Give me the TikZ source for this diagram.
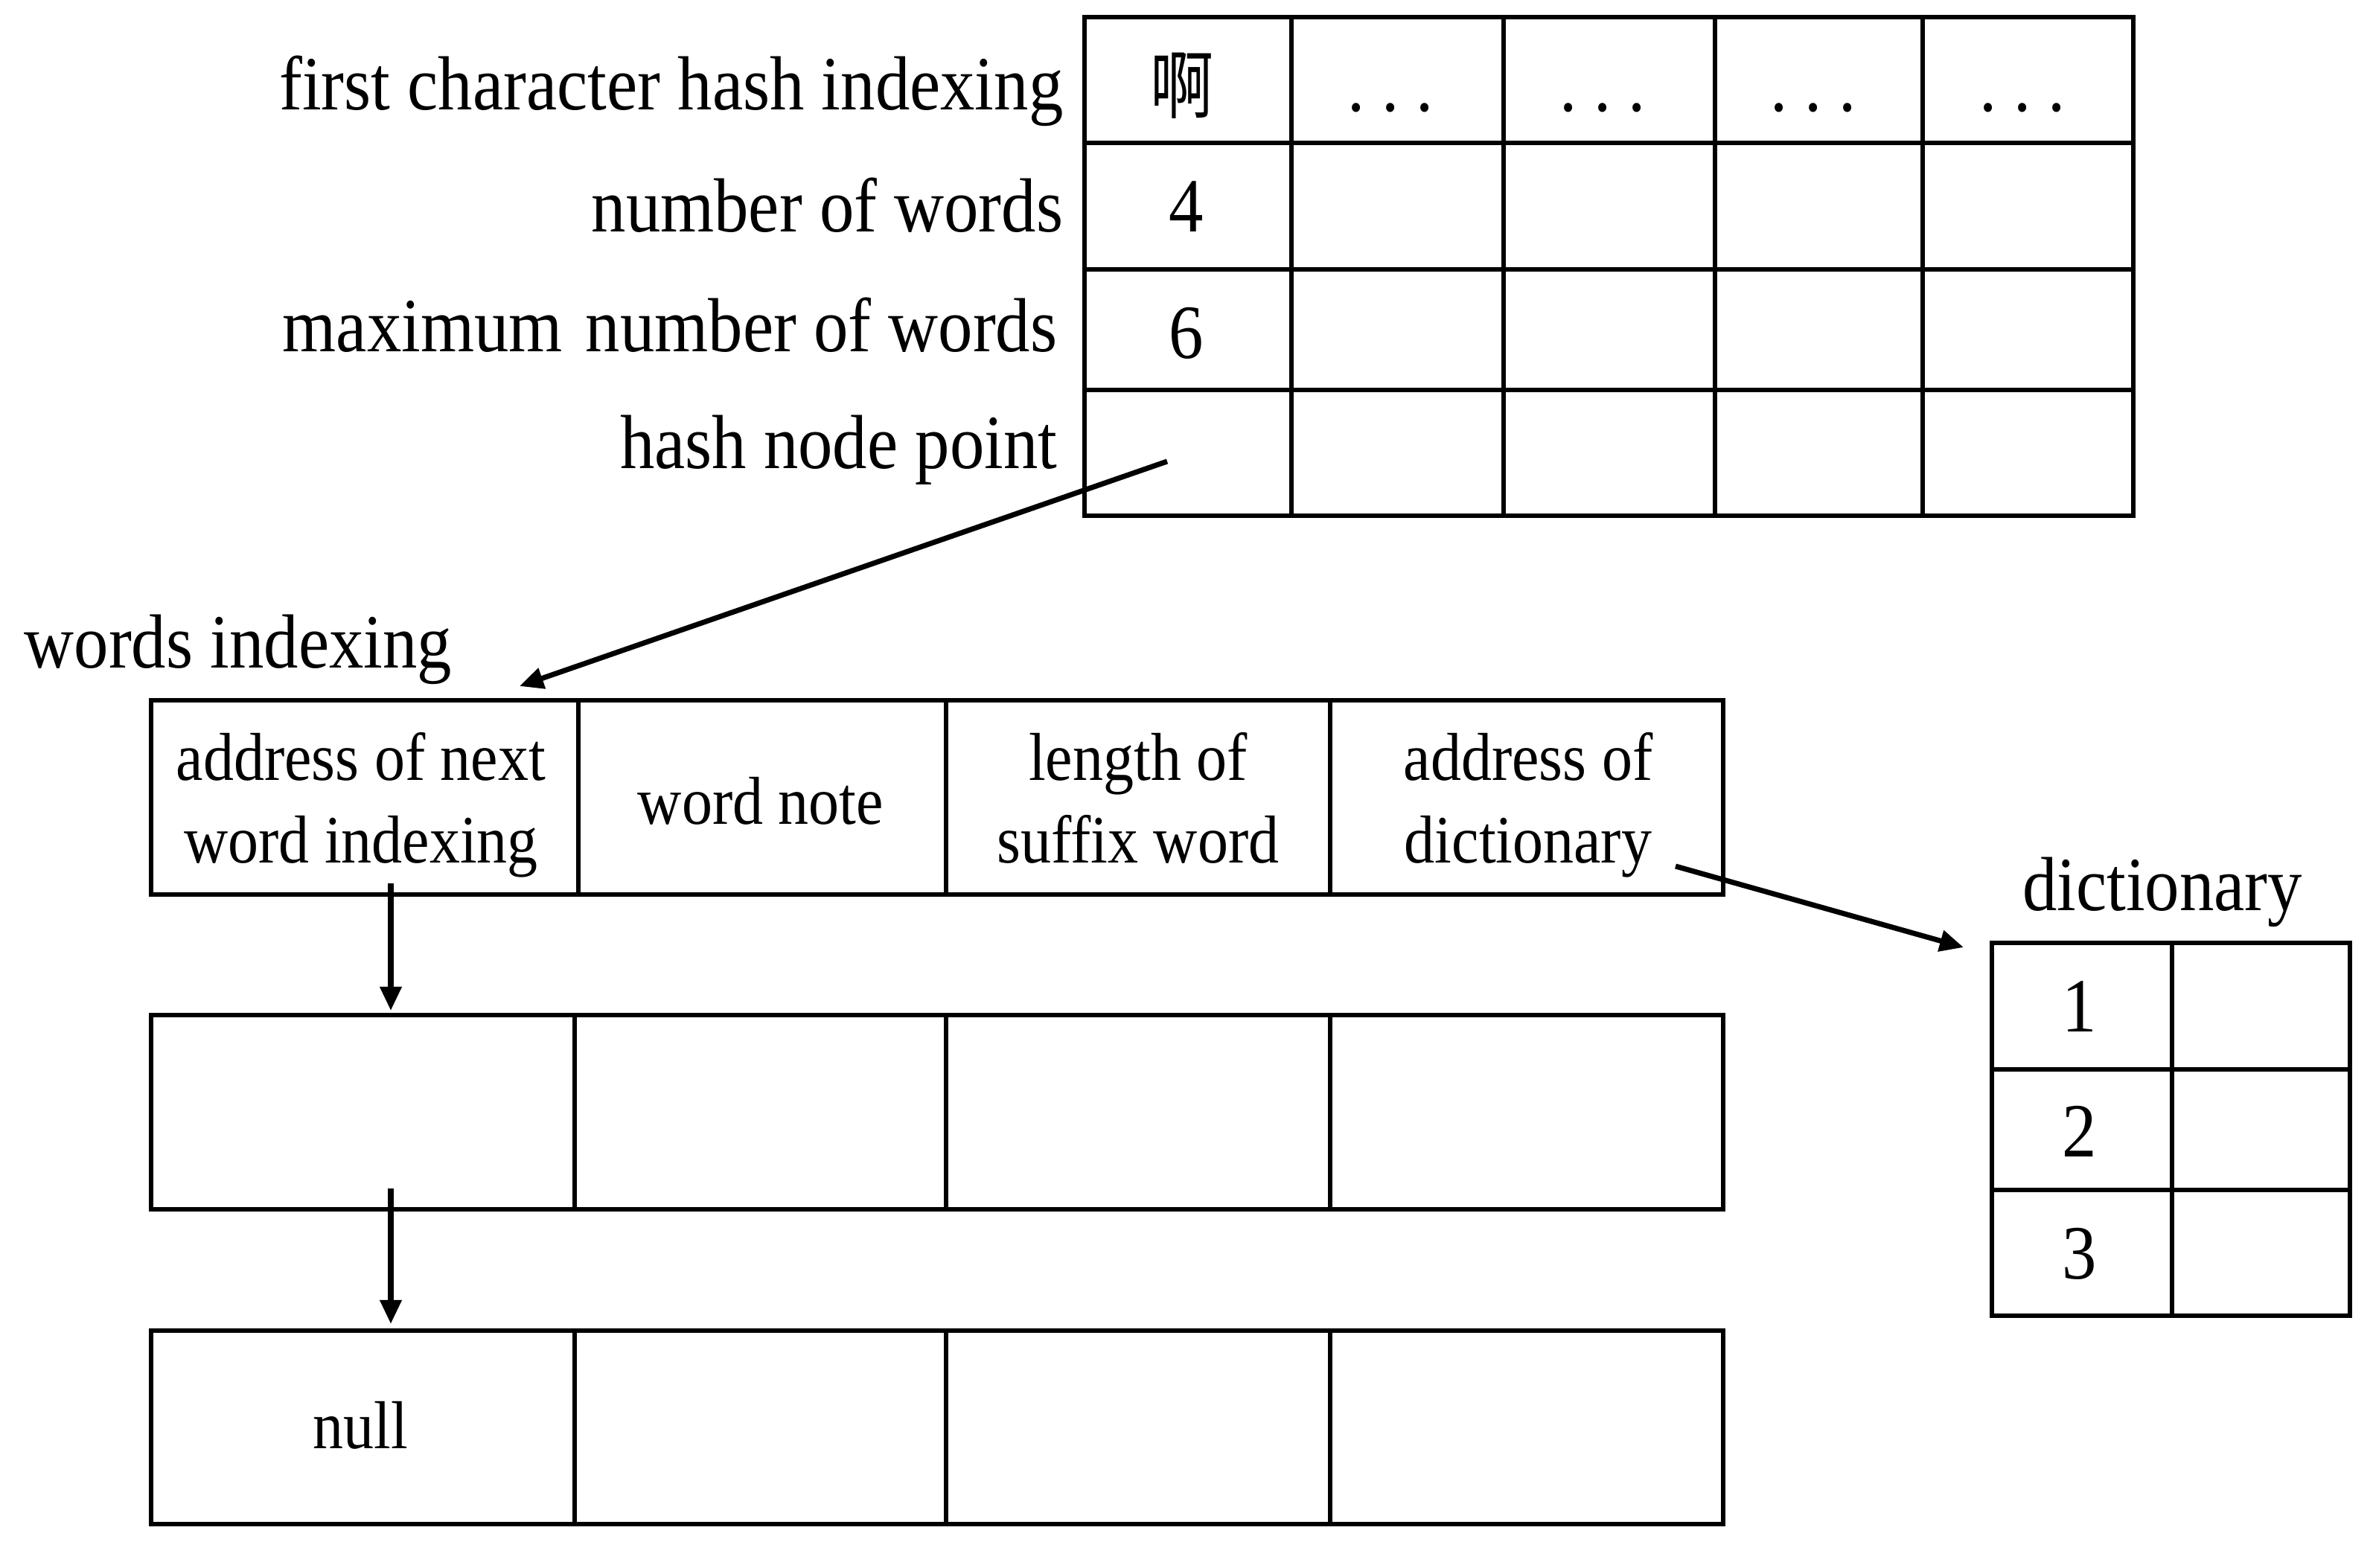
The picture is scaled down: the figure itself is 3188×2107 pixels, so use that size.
\documentclass[tikz,border=0pt]{standalone}
\usepackage{fontspec}
\setmainfont[FakeStretch=0.9]{Liberation Serif}
\newfontfamily\cjkfont[FakeStretch=0.85]{Noto Sans CJK SC}
\usetikzlibrary{arrows.meta,fit}
\newcommand\labfont{\fontsize{29.3pt}{35pt}\selectfont}
\newcommand\cellfont{\fontsize{25.9pt}{31.6pt}\selectfont}
\begin{document}
\begin{tikzpicture}[x=0.01cm,y=-0.01cm,
  lab/.style={inner sep=0pt, font=\labfont},
  ctext/.style={inner sep=0pt, font=\cellfont},
  cellbox/.style={draw, line width=1.7pt, inner sep=0pt},
  arr/.style={line width=2pt, -{Triangle[length=0.32cm,width=0.28cm]}},
]
\fill[white] (0,0) rectangle (3188,2107);
\useasboundingbox (0,0) rectangle (3188,2107);

% ---------- top hash table ----------
\node[cellbox, fit={(1457,23) (1735,192)}] (h11) {};
\node[cellbox, fit={(1735,23) (2020,192)}] (h12) {};
\node[cellbox, fit={(2020,23) (2304,192)}] (h13) {};
\node[cellbox, fit={(2304,23) (2583,192)}] (h14) {};
\node[cellbox, fit={(2583,23) (2866,192)}] (h15) {};

\node[cellbox, fit={(1457,192) (1735,362)}] (h21) {};
\node[cellbox, fit={(1735,192) (2020,362)}] (h22) {};
\node[cellbox, fit={(2020,192) (2304,362)}] (h23) {};
\node[cellbox, fit={(2304,192) (2583,362)}] (h24) {};
\node[cellbox, fit={(2583,192) (2866,362)}] (h25) {};

\node[cellbox, fit={(1457,362) (1735,524)}] (h31) {};
\node[cellbox, fit={(1735,362) (2020,524)}] (h32) {};
\node[cellbox, fit={(2020,362) (2304,524)}] (h33) {};
\node[cellbox, fit={(2304,362) (2583,524)}] (h34) {};
\node[cellbox, fit={(2583,362) (2866,524)}] (h35) {};

\node[cellbox, fit={(1457,524) (1735,693)}] (h41) {};
\node[cellbox, fit={(1735,524) (2020,693)}] (h42) {};
\node[cellbox, fit={(2020,524) (2304,693)}] (h43) {};
\node[cellbox, fit={(2304,524) (2583,693)}] (h44) {};
\node[cellbox, fit={(2583,524) (2866,693)}] (h45) {};

% cell texts
\node[inner sep=0pt, anchor=base, font=\cjkfont\fontsize{28.5pt}{30pt}\selectfont] (t11) at (1588,152) {啊};
\node[lab, anchor=base] (t12) at (1868,150) {.\ .\ .};
\node[lab, anchor=base] (t13) at (2153,150) {.\ .\ .};
\node[lab, anchor=base] (t14) at (2436,150) {.\ .\ .};
\node[lab, anchor=base] (t15) at (2717,150) {.\ .\ .};
\node[lab, anchor=base] (t21) at (1594,312) {4};
\node[lab, anchor=base] (t31) at (1594,482) {6};

% row labels
\node[lab, anchor=base east] (l1) at (1429,148) {first character hash indexing};
\node[lab, anchor=base east] (l2) at (1429,312) {number of words};
\node[lab, anchor=base east] (l3) at (1421,473) {maximum\hspace{0.3em}number of words};
\node[lab, anchor=base east] (l4) at (1421,630) {hash node point};

% ---------- words indexing ----------
\node[lab, anchor=base west] (wlab) at (32,898) {words indexing};

\node[cellbox, fit={(203,941) (777,1202)}] (w11) {};
\node[cellbox, fit={(777,941) (1271,1202)}] (w12) {};
\node[cellbox, fit={(1271,941) (1787,1202)}] (w13) {};
\node[cellbox, fit={(1787,941) (2315,1202)}] (w14) {};
\node[ctext, anchor=base] (w11a) at (485,1048) {address of next};
\node[ctext, anchor=base] (w11b) at (485,1159) {word indexing};
\node[ctext, anchor=base] (w12a) at (1022,1107) {word note};
\node[ctext, anchor=base] (w13a) at (1529,1048) {length of};
\node[ctext, anchor=base] (w13b) at (1529,1159) {suffix word};
\node[ctext, anchor=base] (w14a) at (2053,1048) {address of};
\node[ctext, anchor=base] (w14b) at (2053,1159) {dictionary};

\node[cellbox, fit={(203,1364) (772,1625)}] (w21) {};
\node[cellbox, fit={(772,1364) (1271,1625)}] (w22) {};
\node[cellbox, fit={(1271,1364) (1787,1625)}] (w23) {};
\node[cellbox, fit={(1787,1364) (2315,1625)}] (w24) {};

\node[cellbox, fit={(203,1788) (772,2048)}] (w31) {};
\node[cellbox, fit={(772,1788) (1271,2048)}] (w32) {};
\node[cellbox, fit={(1271,1788) (1787,2048)}] (w33) {};
\node[cellbox, fit={(1787,1788) (2315,2048)}] (w34) {};
\node[ctext, anchor=base] (w31a) at (484,1946) {null};

% ---------- dictionary ----------
\node[lab, anchor=base] (dlab) at (2905,1223) {dictionary};
\node[cellbox, fit={(2676,1267) (2918,1437)}] (d11) {};
\node[cellbox, fit={(2918,1267) (3157,1437)}] (d12) {};
\node[cellbox, fit={(2676,1437) (2918,1599)}] (d21) {};
\node[cellbox, fit={(2918,1437) (3157,1599)}] (d22) {};
\node[cellbox, fit={(2676,1599) (2918,1768)}] (d31) {};
\node[cellbox, fit={(2918,1599) (3157,1768)}] (d32) {};
\node[lab, anchor=base] (d11t) at (2794,1386) {1};
\node[lab, anchor=base] (d21t) at (2794,1554) {2};
\node[lab, anchor=base] (d31t) at (2794,1718) {3};

% ---------- connectors ----------
\coordinate (a1s) at (1568,620);
\coordinate (a1e) at (698,922);
\draw[arr] (a1s) -- (a1e);

\coordinate (a2s) at (525,1187);
\coordinate (a2e) at (525,1358);
\draw[arr] (a2s) -- (a2e);

\coordinate (a3s) at (525,1597);
\coordinate (a3e) at (525,1779);
\draw[arr] (a3s) -- (a3e);

\coordinate (a4s) at (2251,1164);
\coordinate (a4e) at (2638,1273);
\draw[arr] (a4s) -- (a4e);
\end{tikzpicture}
\end{document}
